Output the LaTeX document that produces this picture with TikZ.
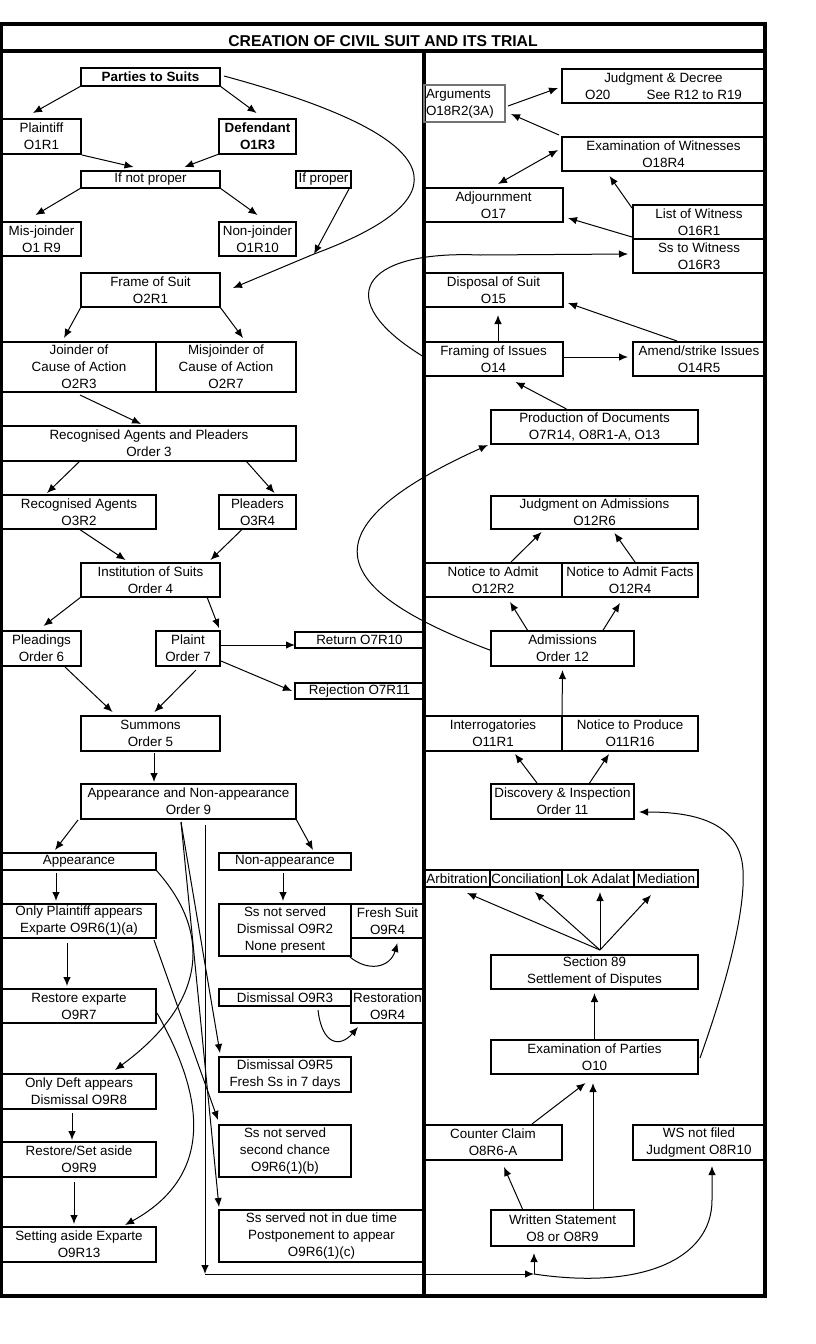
\documentclass[tikz,border=0pt]{standalone}
\usepackage{fontspec}
\setmainfont{Liberation Sans}
\usetikzlibrary{arrows.meta,calc}
\tikzset{
 bx/.style={draw, line width=2.4pt, inner sep=0pt, outer sep=0pt, align=center, font=\fontsize{13.4}{17}\selectfont},
 bxb/.style={font=\bfseries\fontsize{13.4}{17}\selectfont},
 arr/.style={-{Latex[length=9pt,width=7.5pt]}, line width=1pt},
 darr/.style={{Latex[length=9pt,width=7.5pt]}-{Latex[length=9pt,width=7.5pt]}, line width=1pt},
 ln/.style={line width=1pt},
 frame/.style={line width=3.5pt},
}
\newcommand{\boxnode}[7][]{\node[bx,minimum width={(#5-#3)*1pt},minimum height={(#6-#4)*1pt},#1] (#2) at ({(#3+#5)/2},{(#4+#6)/2}) {#7};}
\begin{document}
\begin{tikzpicture}[x=1pt,y=-1pt]
\useasboundingbox (0,0) rectangle (816,1344);
% frame
\draw[frame] (1,24) rectangle (765,1296);
\draw[frame] (1,51) -- (765,51);
\draw[frame] (424,51) -- (424,1296);
\node[font=\bfseries\fontsize{15.7}{18}\selectfont] (title) at (383,41) {CREATION OF CIVIL SUIT AND ITS TRIAL};

% left column
\boxnode[bxb]{ps}{81}{68}{220}{86}{Parties to Suits}
\boxnode{pl}{2}{119}{81}{154}{Plaintiff\\O1R1}
\boxnode[bxb]{df}{219}{119}{296}{154}{Defendant\\O1R3}
\boxnode{inp}{81}{171}{220}{188}{If not proper}
\boxnode{ip}{296}{171}{351}{188}{If proper}
\boxnode{mj}{2}{222}{81}{256}{Mis-joinder\\O1 R9}
\boxnode{nj}{219}{222}{296}{256}{Non-joinder\\O1R10}
\boxnode{fs}{81}{273}{220}{307}{Frame of Suit\\O2R1}
\boxnode{jc}{2}{342}{156}{392}{Joinder of\\Cause of Action\\O2R3}
\boxnode{mc}{156}{342}{296}{392}{Misjoinder of\\Cause of Action\\O2R7}
\boxnode{rap}{2}{426}{296}{461}{Recognised Agents and Pleaders\\Order 3}
\boxnode{ra}{2}{495}{156}{529}{Recognised Agents\\O3R2}
\boxnode{pd}{219}{495}{296}{529}{Pleaders\\O3R4}
\boxnode{ins}{81}{563}{220}{597}{Institution of Suits\\Order 4}
\boxnode{pg}{2}{631}{81}{666}{Pleadings\\Order 6}
\boxnode{pt}{156}{631}{220}{666}{Plaint\\Order 7}
\boxnode{rt}{295}{632}{424}{648}{Return O7R10}
\boxnode{rj}{295}{683}{424}{699}{Rejection O7R11}
\boxnode{sm}{81}{716}{220}{751}{Summons\\Order 5}
\boxnode{ord9}{81}{784}{296}{819}{Appearance and Non-appearance\\Order 9}
\boxnode{ap}{2}{853}{156}{870}{Appearance}
\boxnode{na}{219}{853}{351}{870}{Non-appearance}
\boxnode{op}{2}{904}{156}{938}{Only Plaintiff appears\\Exparte O9R6(1)(a)}
\boxnode{ss}{219}{904}{351}{956}{Ss not served\\Dismissal O9R2\\None present}
\boxnode{fr}{351}{904}{424}{938}{Fresh Suit\\O9R4}
\boxnode{re}{2}{989}{156}{1023}{Restore exparte\\O9R7}
\boxnode{dthree}{219}{989}{351}{1006}{Dismissal O9R3}
\boxnode{rs}{351}{989}{424}{1023}{Restoration\\O9R4}
\boxnode{dfive}{219}{1057}{351}{1092}{Dismissal O9R5\\Fresh Ss in 7 days}
\boxnode{od}{2}{1074}{156}{1109}{Only Deft appears\\Dismissal O9R8}
\boxnode{rsa}{2}{1142}{156}{1177}{Restore/Set aside\\O9R9}
\boxnode{sae}{2}{1227}{156}{1262}{Setting aside Exparte\\O9R13}
\boxnode{sc}{219}{1125}{351}{1177}{Ss not served\\second chance\\O9R6(1)(b)}
\boxnode{sd}{219}{1210}{424}{1262}{Ss served not in due time\\Postponement to appear\\O9R6(1)(c)}

% right column
\boxnode[draw=black!55, line width=1.3pt, text width=77pt, align=left]{ar}{424}{85}{505}{122}{Arguments\\O18R2(3A)}
\boxnode{jd}{562}{69}{765}{103}{Judgment \& Decree\\O20\hspace{2.7em}See R12 to R19}
\boxnode{ew}{562}{137}{765}{171}{Examination of Witnesses\\O18R4}
\boxnode{aj}{424}{188}{563}{222}{Adjournment\\O17}
\boxnode{lw}{633}{205}{765}{239}{List of Witness\\O16R1}
\boxnode{sw}{633}{239}{765}{273}{Ss to Witness\\O16R3}
\boxnode{dp}{424}{273}{563}{307}{Disposal of Suit\\O15}
\boxnode{fi}{424}{342}{563}{376}{Framing of Issues\\O14}
\boxnode{am}{633}{342}{765}{376}{Amend/strike Issues\\O14R5}
\boxnode{pdoc}{491}{410}{698}{444}{Production of Documents\\O7R14, O8R1-A, O13}
\boxnode{ja}{491}{496}{698}{529}{Judgment on Admissions\\O12R6}
\boxnode{nta}{424}{563}{562}{597}{Notice to Admit\\O12R2}
\boxnode{ntf}{562}{563}{698}{597}{Notice to Admit Facts\\O12R4}
\boxnode{adm}{491}{631}{634}{666}{Admissions\\Order 12}
\boxnode{int}{424}{716}{562}{751}{Interrogatories\\O11R1}
\boxnode{ntp}{562}{716}{698}{751}{Notice to Produce\\O11R16}
\boxnode{di}{491}{784}{634}{819}{Discovery \& Inspection\\Order 11}
\boxnode{arb}{424}{870}{490}{887}{Arbitration}
\boxnode{con}{490}{870}{562}{887}{Conciliation}
\boxnode{lok}{562}{870}{634}{887}{Lok Adalat}
\boxnode{med}{634}{870}{698}{887}{Mediation}
\boxnode{sn}{491}{955}{698}{989}{Section 89\\Settlement of Disputes}
\boxnode{ep}{491}{1040}{698}{1074}{Examination of Parties\\O10}
\boxnode{cc}{424}{1125}{562}{1160}{Counter Claim\\O8R6-A}
\boxnode{wsn}{633}{1125}{765}{1160}{WS not filed\\Judgment O8R10}
\boxnode{ws}{491}{1210}{634}{1246}{Written Statement\\O8 or O8R9}

% left connectors
\coordinate (J) at (314,254);
\draw[arr] (ps.south west) -- ($(pl.north)+(-8.5,-6)$);
\draw[arr] (ps.south east) -- ($(df.north)+(-1,-6)$);
\draw[ln] ($(ps.east)+(4,-1)$) .. controls (460,140) and (460,200) .. (J);
\draw[arr] ($(ip.south east)+(-2,1)$) -- (J);
\draw[arr] (J) -- ($(fs.east)+(13,-2)$);
\draw[arr] ($(pl.south east)+(1,1)$) -- ($(inp.north)+(-17,-4)$);
\draw[arr] (df.south west) -- ($(inp.north)+(34,-4)$);
\draw[arr] (inp.south west) -- ($(mj.north)+(-6,-7)$);
\draw[arr] (inp.south east) -- ($(nj.north)+(0,-7)$);
\draw[arr] (fs.south west) -- ($(jc.north)+(-15,-4)$);
\draw[arr] (fs.south east) -- ($(mc.north)+(17,-4)$);
\draw[arr] ($(jc.south)+(1,3)$) -- ($(rap.north)+(-8,-2)$);
\draw[arr] ($(rap.south west)+(78,0)$) -- ($(ra.north)+(-32,-2)$);
\draw[arr] ($(rap.south east)+(-50,0)$) -- ($(pd.north)+(17,-2)$);
\draw[arr] (ra.south) -- ($(ins.north)+(-25,-3)$);
\draw[arr] ($(pd.south)+(-15,0)$) -- ($(ins.north)+(60,-3)$);
\draw[arr] (ins.south west) -- ($(pg.north)+(2,-5)$);
\draw[arr] ($(ins.south east)+(-13,0)$) -- ($(pt.north east)+(-1,-3)$);
\draw[arr] ($(pt.east)+(0,-3.5)$) -- ($(rt.west)+(0,5)$);
\draw[arr] ($(pt.south east)+(1,-5)$) -- ($(rj.west)+(-3,0)$);
\draw[arr] ($(pg.south)+(23.5,1)$) -- ($(sm.north)+(-38,-4)$);
\draw[arr] ($(pt.south)+(8,4)$) -- ($(sm.north)+(4,-4)$);
\draw[arr] ($(sm.south)+(3.5,2)$) -- ($(ord9.north)+(-34.5,-2)$);
\draw[arr] ($(ord9.south west)+(-3,1)$) -- ($(ap.north)+(-24,-3)$);
\draw[arr] (ord9.south east) -- ($(na.north)+(28,-3)$);
\draw[arr] ($(ord9.south)+(-7.5,3)$) -- ($(dfive.north west)+(1,-4)$);
\draw[arr] ($(ord9.south)+(-7.5,3)$) -- ($(sd.north west)+(0,-3)$);
\coordinate (B1) at (205,1274);
\coordinate (B2) at (534,1274);
\draw[arr] ($(ord9.south)+(16.5,6)$) -- (B1);
\draw[arr] (B1) -- (B2);
\draw[arr] (B2) -- ($(ws.south)+(-28.5,7)$);
\draw[arr] (B2) .. controls (640,1290) and ($(wsn.south)+(13,100)$) .. ($(wsn.south)+(13,40)$) -- ($(wsn.south)+(13,6)$);
\draw[arr] ($(ap.south)+(-23,3)$) -- ($(op.north)+(-23,-3)$);
\draw[arr] ($(op.south)+(-12,5)$) -- ($(re.north)+(-12,-3)$);
\draw[arr] (ap.south east) .. controls (210,930) and (210,1000) .. ($(od.north)+(36,-4)$);
\draw[arr] ($(op.south east)+(-2,2)$) -- ($(sc.north west)+(-1,-5)$);
\draw[arr] ($(re.east)+(1,7)$) .. controls (195,1080) and (225,1170) .. ($(sae.north)+(46,-2)$);
\draw[arr] ($(od.south)+(-7,4)$) -- ($(rsa.north)+(-7,-2)$);
\draw[arr] ($(rsa.south)+(-5,5)$) -- ($(sae.north)+(-5,-3)$);
\draw[arr] ($(na.south)+(-2,3)$) -- ($(ss.north)+(-2,-3)$);
\draw[arr] ($(ss.south east)+(-1,1)$) .. controls (368,972) and (390,968) .. ($(fr.south)+(10,5)$);
\draw[arr] ($(dthree.south)+(33,4)$) .. controls (322,1045) and (340,1048) .. ($(rs.south west)+(7,4)$);

% right connectors
\draw[arr] ($(ar.east)+(3,2.5)$) -- ($(jd.west)+(-4,2)$);
\draw[arr] ($(ew.north west)+(-3,-2)$) -- ($(ar.east)+(6,10.5)$);
\draw[darr] ($(aj.north)+(4.5,-4)$) -- ($(ew.west)+(-4,-4)$);
\draw[arr] ($(lw.west)+(-1,-14)$) -- ($(ew.south)+(-54,5)$);
\draw[arr] ($(lw.south west)+(-1,-2)$) -- ($(aj.east)+(5,13)$);
\draw[arr] ($(fi.west)+(0,-2)$) .. controls (330,300) and (360,250) .. (480,255) -- ($(sw.west)+(-5,-2)$);
\draw[arr] ($(fi.north)+(4.5,-1)$) -- ($(dp.south)+(4.5,8)$);
\draw[arr] ($(am.north)+(-22,-1)$) -- ($(dp.east)+(5,13)$);
\draw[arr] ($(fi.east)+(1,-2)$) -- ($(am.west)+(-5,-2)$);
\draw[arr] ($(pdoc.north)+(-28,-1)$) -- ($(fi.south)+(22,6)$);
\draw[arr] ($(adm.west)+(0,2)$) .. controls (330,590) and (300,530) .. ($(pdoc.south west)+(-3,1)$);
\draw[arr] ($(nta.north)+(18,-1)$) -- ($(ja.south)+(-53,3)$);
\draw[arr] ($(ntf.north)+(5,-1)$) -- ($(ja.south)+(20,4)$);
\draw[arr] ($(adm.north)+(-34.5,0)$) -- ($(nta.south)+(17,5)$);
\draw[arr] ($(adm.north)+(40,0)$) -- ($(ntf.south)+(-10,6)$);
\draw[arr] (int.north east) -- ($(adm.south)+(0,4)$);
\draw[arr] ($(di.north)+(-25.5,-1)$) -- ($(int.south)+(22,3)$);
\draw[arr] ($(di.north)+(27,-1)$) -- ($(ntp.south)+(-21,3)$);
\draw[arr] ($(ep.east)+(2,1)$) .. controls (735,960) and (745,900) .. (743,870) .. controls (740,820) and (690,812) .. ($(di.east)+(5,10.5)$);
\coordinate (S) at ($(sn.north)+(5.5,-5)$);
\draw[arr] (S) -- ($(arb.south)+(10,6)$);
\draw[arr] (S) -- ($(con.south)+(9,5)$);
\draw[arr] (S) -- ($(lok.south)+(2,5)$);
\draw[arr] (S) -- ($(med.south)+(-15,8)$);
\draw[arr] ($(ep.north)+(0,-1)$) -- ($(sn.south)+(0,4)$);
\draw[arr] ($(cc.north)+(39,-1)$) -- ($(ep.south)+(-9,9)$);
\draw[arr] ($(ws.north)+(30.5,0)$) -- ($(ep.south)+(-1.5,9)$);
\draw[arr] ($(ws.north)+(-40,-1)$) -- ($(cc.south)+(11,7)$);
\end{tikzpicture}
\end{document}
